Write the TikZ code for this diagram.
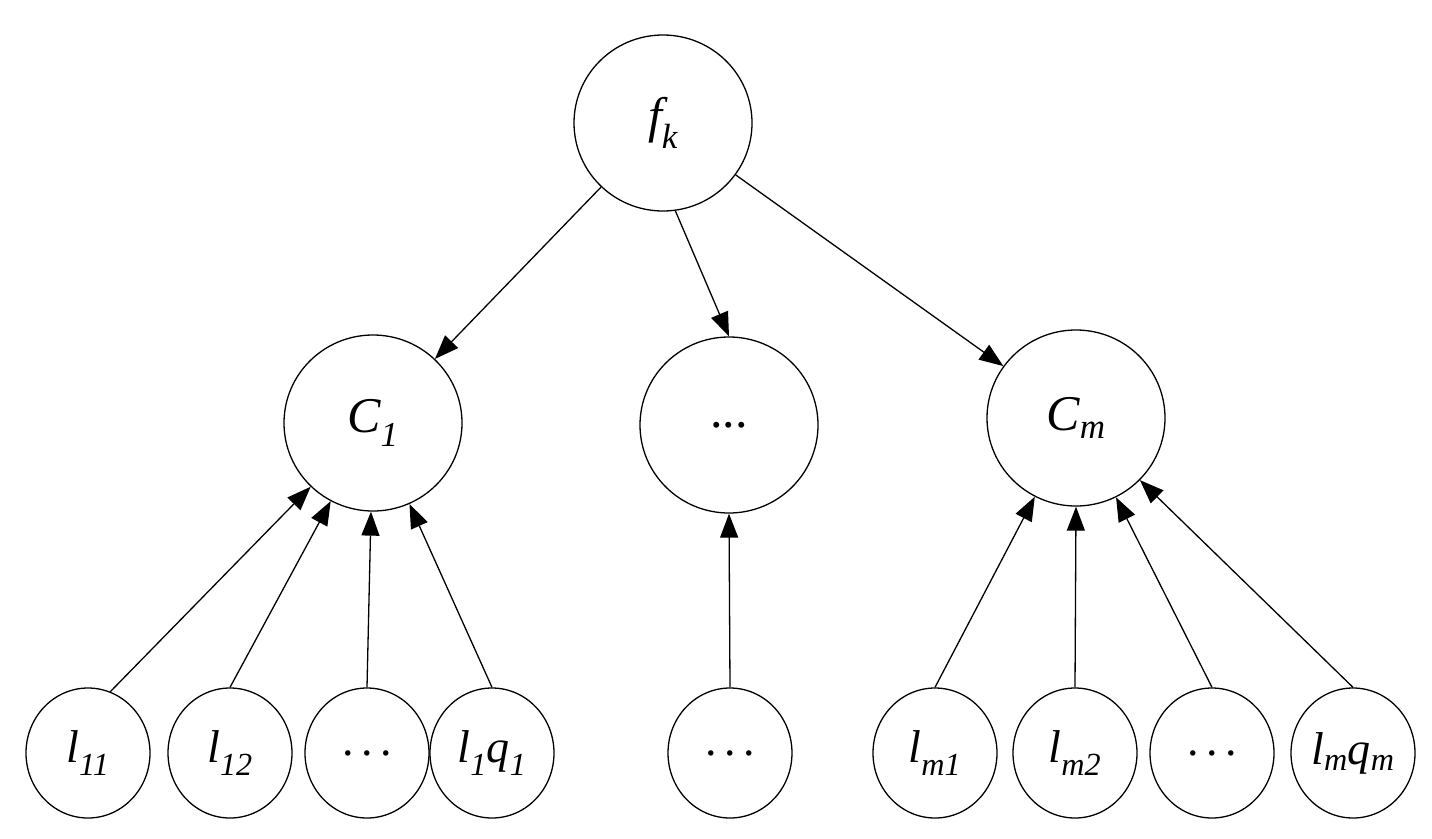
\documentclass[tikz,border=0pt]{standalone}
\usepackage{fontspec}
\setmainfont{Liberation Serif}
\usetikzlibrary{shapes.geometric,arrows.meta}
\newcommand{\sbs}[1]{\textsubscript{\itshape #1}}
\begin{document}
\begin{tikzpicture}[x=1pt,y=-1pt,
  big/.style={draw,line width=1.3pt,ellipse,minimum width=178pt,minimum height=176pt,inner sep=0pt,font=\fontsize{50}{50}\selectfont\itshape},
  small/.style={draw,line width=1.3pt,ellipse,minimum width=124pt,minimum height=130pt,inner sep=0pt,font=\fontsize{46}{46}\selectfont\itshape},
  arr/.style={line width=1.3pt,-{Triangle[length=24pt,width=18pt]}}]
\useasboundingbox (0,0) rectangle (1432,838);
\node[big] (fk) at (663,123) {f\sbs{k}};
\node[big] (c1) at (373,423) {C\sbs{1}};
\node[big] (cd) at (729,425) {\upshape ...};
\node[big] (cm) at (1076,418) {C\sbs{m}};
\node[small] (l11) at (88,753) {l\sbs{11}};
\node[small] (l12) at (230,753) {l\sbs{12}};
\node[small] (l1d) at (367,753) {\upshape .\,.\,.};
\node[small] (l1q) at (492,753) {l\sbs{1}q\sbs{1}};
\node[small] (md) at (730,753) {\upshape .\,.\,.};
\node[small] (lm1) at (935,753) {l\sbs{m1}};
\node[small] (lm2) at (1075,753) {l\sbs{m2}};
\node[small] (lmd) at (1212,753) {\upshape .\,.\,.};
\node[small] (lmq) at (1353,753) {l\sbs{m}q\sbs{m}};
\draw[arr] (fk) -- (c1);
\draw[arr] (fk.-82) -- (cd.north);
\draw[arr] (fk) -- (cm);
\draw[arr] (l11.70) -- (c1);
\draw[arr] (l12.north) -- (c1);
\draw[arr] (l1d.north) -- (c1);
\draw[arr] (l1q.north) -- (c1);
\draw[arr] (md.north) -- (cd.south);
\draw[arr] (lm1.north) -- (cm);
\draw[arr] (lm2.north) -- (cm.south);
\draw[arr] (lmd.north) -- (cm);
\draw[arr] (lmq.north) -- (cm);
\end{tikzpicture}
\end{document}
